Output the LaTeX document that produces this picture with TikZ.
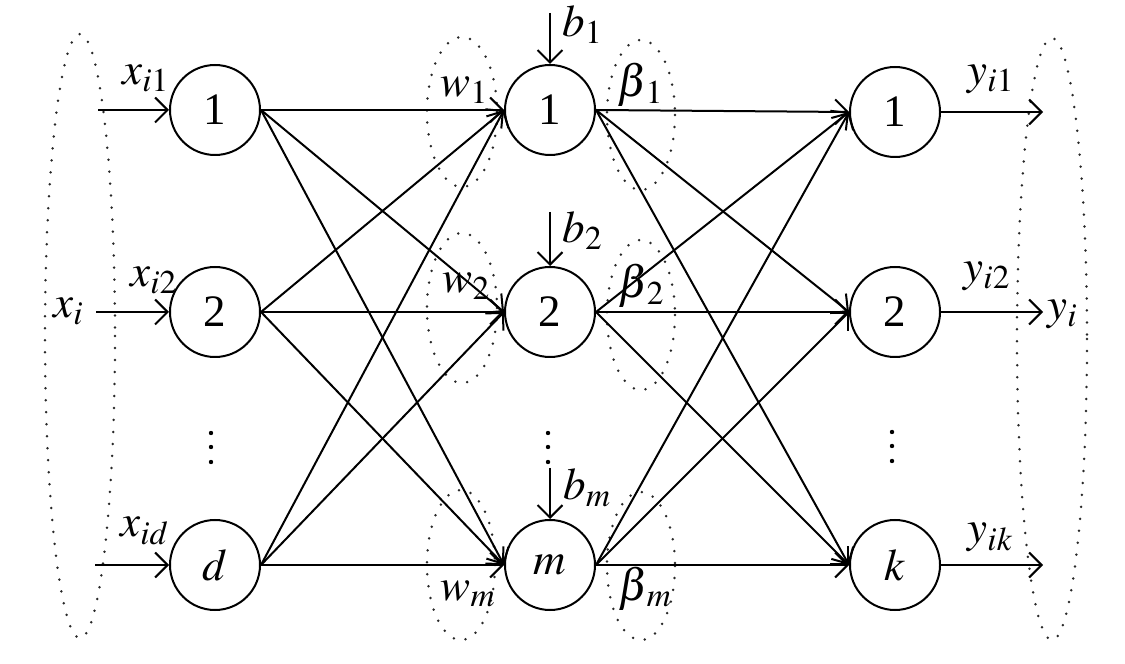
\documentclass[tikz,border=0pt]{standalone}
\usepackage{mathptmx}
\usepackage[no-math]{fontspec}
\setmainfont{Liberation Serif}
\usetikzlibrary{arrows.meta}
\definecolor{dotgray}{RGB}{40,40,40}

\tikzset{
  neuron/.style = {circle, draw, line width = 0.8pt, minimum size = 36pt, inner sep = 0pt, font = \fontsize{18}{20}\selectfont},
  conn/.style = {line width = 0.8pt, -{Straight Barb[length = 5pt, width = 10pt]}},
  group/.style = {dotgray, line width = 1.1pt, line cap = round, dash pattern = on 0pt off 4.8pt},
  lab/.style = {anchor = base west, inner sep = 0pt, font = \fontsize{18}{20}\selectfont}
}

\begin{document}
\begin{tikzpicture}[x = 0.4pt, y = -0.4pt]
			\useasboundingbox (0,0) rectangle (1125,664);
			% groups
			\draw[group] (80,336) ellipse [x radius = 35, y radius = 302];
			\draw[group] (1052,339) ellipse [x radius = 35, y radius = 301];
			\draw[group] (462,112) ellipse [x radius = 35, y radius = 75];
			\draw[group] (462,308) ellipse [x radius = 35, y radius = 75];
			\draw[group] (461,565) ellipse [x radius = 34, y radius = 75];
			\draw[group] (641,115) ellipse [x radius = 34, y radius = 75];
			\draw[group] (641,315) ellipse [x radius = 34, y radius = 75];
			\draw[group] (641,566) ellipse [x radius = 34, y radius = 74];
			% input layer
			\node (i1) at (215,110) [neuron] {1};
			\node (i2) at (215,312) [neuron] {2};
			\node (id) at (215,565) [neuron] {$d$};
			% hidden layer
			\node (h1) at (550,110) [neuron] {1};
			\node (h2) at (550,312) [neuron] {2};
			\node (hm) at (550,565) [neuron] {$m$};
			% output layer
			\node (o1) at (895,112) [neuron] {1};
			\node (o2) at (895,312) [neuron] {2};
			\node (ok) at (895,565) [neuron] {$k$};
			% dots
			\fill (211,433) circle [radius = 2.2] (211,447) circle [radius = 2.2] (211,462) circle [radius = 2.2];
			\fill (548,433) circle [radius = 2.2] (548,447) circle [radius = 2.2] (548,462) circle [radius = 2.2];
			\fill (892,432) circle [radius = 2.2] (892,446) circle [radius = 2.2] (892,461) circle [radius = 2.2];
			% free ends
			\coordinate (x1) at (98,110);
			\coordinate (x2) at (96,312);
			\coordinate (xd) at (95,565);
			\coordinate (y1) at (1043,112);
			\coordinate (y2) at (1043,312);
			\coordinate (yk) at (1043,565);
			\coordinate (b1) at (550,13);
			\coordinate (b2) at (550,212);
			\coordinate (bm) at (550,468);
			% inputs, outputs, biases
			\draw[conn] (x1) -- (i1.west);
			\draw[conn] (x2) -- (i2.west);
			\draw[conn] (xd) -- (id.west);
			\draw[conn] (o1.east) -- (y1);
			\draw[conn] (o2.east) -- (y2);
			\draw[conn] (ok.east) -- (yk);
			\draw[conn] (b1) -- (h1.north);
			\draw[conn] (b2) -- (h2.north);
			\draw[conn] (bm) -- (hm.north);
			% input to hidden
			\draw (i1.east) edge[conn] (h1.west);
			\draw (i1.east) edge[conn] (h2.west);
			\draw (i1.east) edge[conn] (hm.west);
			\draw (i2.east) edge[conn] (h1.west);
			\draw (i2.east) edge[conn] (h2.west);
			\draw (i2.east) edge[conn] (hm.west);
			\draw (id.east) edge[conn] (h1.west);
			\draw (id.east) edge[conn] (h2.west);
			\draw (id.east) edge[conn] (hm.west);
			% hidden to output
			\draw (h1.east) edge[conn] (o1.west);
			\draw (h1.east) edge[conn] (o2.west);
			\draw (h1.east) edge[conn] (ok.west);
			\draw (h2.east) edge[conn] (o1.west);
			\draw (h2.east) edge[conn] (o2.west);
			\draw (h2.east) edge[conn] (ok.west);
			\draw (hm.east) edge[conn] (o1.west);
			\draw (hm.east) edge[conn] (o2.west);
			\draw (hm.east) edge[conn] (ok.west);
			% labels
			\node (lx1) at (122,85) [lab] {$x_{i1}$};
			\node (lx2) at (130,287) [lab] {$x_{i2}$};
			\node (lxd) at (120,537) [lab] {$x_{id}$};
			\node (lx) at (53,318) [lab] {$x_i$};
			\node (lw1) at (440,97) [lab] {$w_1$};
			\node (lw2) at (442,293) [lab] {$w_2$};
			\node (lwm) at (440,600) [lab] {$w_m$};
			\node (lbeta1) at (617,97) [lab] {$\beta_{\kern1.5pt 1}$};
			\node (lbeta2) at (618,298) [lab] {$\beta_{\kern1.5pt 2}$};
			\node (lbetam) at (618,600) [lab] {$\beta_{\kern1.5pt m}$};
			\node (lb1) at (562,37) [lab] {$b_1$};
			\node (lb2) at (562,243) [lab] {$b_2$};
			\node (lbm) at (563,500) [lab] {$b_m$};
			\node (ly1) at (967,85) [lab] {$y_{i1}$};
			\node (ly2) at (963,282) [lab] {$y_{i2}$};
			\node (lyk) at (967,543) [lab] {$y_{ik}$};
			\node (ly) at (1047,320) [lab] {$y_i$};
			\end{tikzpicture}
\end{document}
